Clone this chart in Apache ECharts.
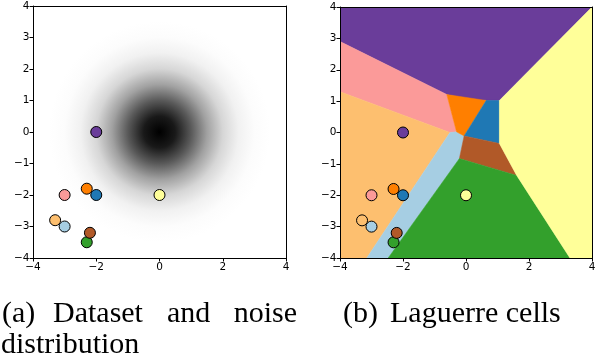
<!DOCTYPE html>
<html>
<head>
<meta charset="utf-8">
<script src="https://cdn.jsdelivr.net/npm/echarts@6/dist/echarts.min.js"></script>
<style>
  html, body { margin: 0; padding: 0; background: #fff; }
  #chart { width: 597px; height: 360px; }
</style>
</head>
<body>
<div id="chart"></div>
<script>
// dataset points (x, y) and their Paired colours
const pointX = [-3.3, -3.0, -2.3, -2.0, -2.3, -2.2, -3.0, -2.0, 0.0]
const pointY = [-2.8, -3.0, -1.8, -2.0, -3.5, -3.2, -2.0, 0.0, -2.0]
const pointColors = ['#fdbf6f', '#a6cee3', '#ff7f00', '#1f78b4', '#33a02c', '#b15928', '#fb9a99', '#6a3d9a', '#ffff99']

// noise density: darkness read along the radius from the centre (0, 0)
const noiseRadii = [0, 0.5, 1, 1.5, 2, 2.5, 3, 3.5]
const noiseLevel = [1, 0.9, 0.65, 0.37, 0.16, 0.055, 0.013, 0]

// Laguerre cells, vertices in data units
const cellColors = ['#6a3d9a', '#fb9a99', '#fdbf6f', '#a6cee3', '#ff7f00', '#1f78b4', '#b15928', '#33a02c', '#ffff99']
const cellPolygons = [
  [[-4, 4], [4, 4], [1.06, 1.02], [0.64, 1.02], [0.2, 1.05], [-0.2, 1.12], [-0.61, 1.21], [-4, 2.9]],
  [[-4, 2.9], [-0.61, 1.21], [-0.3, 0.02], [-0.51, 0.0], [-4, 1.3]],
  [[-4, 1.3], [-0.51, 0.0], [-3.15, -4], [-4, -4]],
  [[-0.51, 0.0], [-0.3, 0.02], [-0.06, -0.11], [-0.21, -0.83], [-2.47, -4], [-3.15, -4]],
  [[-0.61, 1.21], [0.64, 1.02], [-0.06, -0.11], [-0.3, 0.02]],
  [[0.64, 1.02], [1.06, 1.02], [1.06, -0.35], [-0.06, -0.11]],
  [[-0.06, -0.11], [1.06, -0.35], [1.61, -1.37], [-0.21, -0.83]],
  [[-0.21, -0.83], [1.61, -1.37], [3.3, -4], [-2.47, -4]],
  [[1.06, 1.02], [4, 4], [4, -4], [3.3, -4], [1.61, -1.37], [1.06, -0.35]],
]

const minus = v => String(v).replace('-', '\u2212')
const tickFont = { color: '#000', fontSize: 10.5, fontFamily: 'DejaVu Sans' }
const captionFont = '30px "Liberation Serif"'

function mainAxis(dim, gridIndex, interval) {
  return {
    type: 'value', gridIndex, min: -4, max: 4, interval,
    position: dim === 'x' ? 'bottom' : 'left',
    z: 10,
    axisLine: { show: true, onZero: false, lineStyle: { color: '#000', width: 1 } },
    axisTick: { show: true, inside: false, length: 3.5, lineStyle: { color: '#000' } },
    axisLabel: { ...tickFont, margin: 3.5, formatter: minus },
    splitLine: { show: false },
  }
}
function frameAxis(dim, gridIndex) {
  return {
    type: 'value', gridIndex, min: -4, max: 4,
    position: dim === 'x' ? 'top' : 'right',
    z: 10,
    axisLine: { show: true, onZero: false, lineStyle: { color: '#000', width: 1 } },
    axisTick: { show: false }, axisLabel: { show: false }, splitLine: { show: false },
  }
}

const points = pointX.map((x, i) => ({
  value: [x, pointY[i]],
  itemStyle: { color: pointColors[i] },
}))

function scatterSeries(axisIndex) {
  return {
    type: 'scatter', xAxisIndex: axisIndex, yAxisIndex: axisIndex,
    data: points, symbolSize: 11, z: 5,
    itemStyle: { borderColor: '#000', borderWidth: 1, opacity: 1 },
    emphasis: { disabled: true },
  }
}

const gray = d => {
  const g = Math.round(255 * (1 - d))
  return `rgb(${g},${g},${g})`
}
const rMax = noiseRadii[noiseRadii.length - 1]

function caption(text, x, y, align) {
  return { type: 'text', x, y, style: { text, font: captionFont, fill: '#000', verticalAlign: 'middle', align: align || 'left' } }
}

const chart = echarts.init(document.getElementById('chart'), null, { renderer: 'canvas' })
chart.setOption({
  animation: false,
  grid: [
    { left: 33, top: 6, width: 253, height: 252, outerBoundsMode: 'none' },
    { left: 340, top: 7, width: 252, height: 251, outerBoundsMode: 'none' },
  ],
  xAxis: [mainAxis('x', 0, 2), mainAxis('x', 1, 2), frameAxis('x', 0), frameAxis('x', 1)],
  yAxis: [mainAxis('y', 0, 1), mainAxis('y', 1, 1), frameAxis('y', 0), frameAxis('y', 1)],
  series: [
    {
      // noise blob
      type: 'custom', xAxisIndex: 0, yAxisIndex: 0, clip: true, z: 1,
      data: [[0, 0]],
      renderItem: (params, api) => {
        const c = api.coord([api.value(0), api.value(1)])
        const e = api.coord([rMax, 0])
        const r = e[0] - c[0]
        return {
          type: 'circle',
          shape: { cx: c[0], cy: c[1], r },
          style: {
            fill: {
              type: 'radial', x: 0.5, y: 0.5, r: 0.5,
              colorStops: noiseRadii.map((rr, i) => ({ offset: rr / rMax, color: gray(noiseLevel[i]) })),
            },
          },
        }
      },
    },
    scatterSeries(0),
    {
      // Laguerre cells
      type: 'custom', xAxisIndex: 1, yAxisIndex: 1, clip: true, z: 1,
      data: cellPolygons.map((_, i) => [i]),
      renderItem: (params, api) => {
        const i = api.value(0)
        return {
          type: 'polygon',
          shape: { points: cellPolygons[i].map(p => api.coord(p)) },
          style: { fill: cellColors[i], stroke: cellColors[i], lineWidth: 0.5 },
        }
      },
    },
    scatterSeries(1),
  ],
  graphic: [
    caption('(a)', 2, 314),
    caption('Dataset', 53, 314),
    caption('and', 167, 314),
    caption('noise', 297, 314, 'right'),
    caption('distribution', 1, 345),
    caption('(b)', 343, 314),
    caption('Laguerre cells', 390, 314),
  ],
})
</script>
</body>
</html>
